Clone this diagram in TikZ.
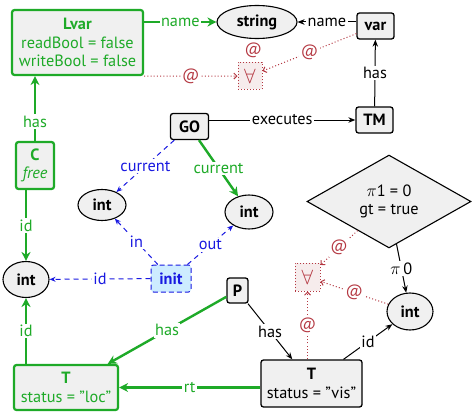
\documentclass[tikz,border=0pt]{standalone}
\usepackage{fontspec}
\setmainfont{PT Sans}
\usetikzlibrary{shapes.geometric,arrows.meta}
\definecolor{gr}{RGB}{30,170,40}
\definecolor{bl}{RGB}{25,25,225}
\definecolor{rd}{RGB}{180,55,65}
\definecolor{nf}{RGB}{240,240,240}
\definecolor{af}{RGB}{246,236,236}
\definecolor{ibl}{RGB}{205,236,255}
\newcommand{\mypi}{{\fontsize{18}{18}\selectfont$\pi$}}
\tikzset{
 base/.style={font=\fontsize{16.3}{18.5}\selectfont},
 blk/.style={base, draw=black, line width=1.3pt, fill=nf, rounded corners=2.5pt, inner sep=0pt, align=center},
 ell/.style={ellipse, draw=black, line width=1.1pt, fill=nf, inner sep=0pt, minimum width=48pt, minimum height=34pt, font=\fontsize{16.3}{18.5}\selectfont\bfseries},
 gbox/.style={base, draw=gr, text=gr, line width=2.2pt, fill=nf, rounded corners=2.5pt, inner sep=0pt, align=center},
 allbox/.style={draw=rd, dotted, line width=1pt, fill=af, inner sep=0pt, text=rd, minimum width=24pt, minimum height=27pt, font=\fontsize{20}{22}\selectfont},
 initbox/.style={draw=bl, dash pattern=on 5pt off 3pt, line width=1pt, fill=ibl, text=bl, rounded corners=2.5pt, inner sep=0pt, minimum width=40pt, minimum height=27pt, font=\fontsize{16.3}{18.5}\selectfont\bfseries},
 lbl/.style={base, fill=white, inner sep=1.5pt},
 barr/.style={draw=black, line width=1pt, -{Stealth[length=7pt,width=5.5pt]}},
 garr/.style={draw=gr, line width=2.4pt, -{Stealth[length=9pt,width=9pt]}},
 bdash/.style={draw=bl, line width=1pt, dash pattern=on 5pt off 4pt, -{Stealth[length=6pt,width=5pt]}},
 rdot/.style={draw=rd, line width=1pt, dash pattern=on 1pt off 2.2pt, -{Straight Barb[length=3pt,width=6pt]}},
}
\begin{document}
\begin{tikzpicture}[x=1pt,y=-1pt]
\fill[white] (0,0) rectangle (474,412);
\useasboundingbox (0,0) rectangle (474,412);
% nodes
\node[gbox, minimum width=131pt, minimum height=65pt] (Lvar) at (77.5,42.5) {{\bfseries Lvar}\\readBool = false\\writeBool = false};
\node[ell, minimum width=80pt, minimum height=33pt] (str) at (257,22) {string};
\node[blk, minimum width=37pt, minimum height=26pt] (var) at (375.5,26) {\bfseries var};
\node[allbox] (fa1) at (250,76) {$\forall$};
\node[blk, minimum width=37pt, minimum height=26pt] (TM) at (374.5,120) {\bfseries TM};
\node[blk, minimum width=38pt, minimum height=26pt] (GO) at (189.5,126.5) {\bfseries GO};
\node[gbox, minimum width=38pt, minimum height=47pt] (C) at (35,165.5) {{\bfseries C}\\\itshape free};
\node[ell, minimum height=31pt] (iML) at (102,205) {int};
\node[ell] (iMR) at (249,212) {int};
\node[base, diamond, draw=black, line width=1.1pt, fill=nf, inner sep=0pt, minimum width=164pt, minimum height=81pt, align=center] (dia) at (389,201.5) {\mypi1 = 0\\gt = true};
\node[ell, minimum width=46pt, minimum height=36pt] (intL) at (26,279.5) {int};
\node[initbox] (init) at (171,278.5) {init};
\node[allbox, minimum width=25pt, minimum height=28pt] (fa2) at (307.5,277) {$\forall$};
\node[blk, minimum width=21pt, minimum height=25pt] (P) at (237.5,290.5) {\bfseries P};
\node[ell, minimum width=46pt, minimum height=37pt] (iR) at (410,311.5) {int};
\node[gbox, minimum width=104pt, minimum height=45pt] (Tloc) at (66,387.5) {{\bfseries T}\\status = "loc"};
\node[blk, minimum width=101pt, minimum height=47pt] (Tvis) at (311.5,383.5) {{\bfseries T}\\status = "vis"};
% edges
\draw[garr] (Lvar.east |- str.west) -- node[lbl,text=gr]{name} (str.west);
\draw[barr] (var.west |- str.east) -- node[lbl]{name} (str.east);
\draw[rdot] (Lvar.south east) -- node[lbl,text=rd]{@} (fa1);
\draw[rdot] (var) -- node[lbl,text=rd]{@} (fa1);
\draw[draw=rd, dash pattern=on 1pt off 2.2pt, line width=1pt, shorten <=5pt, shorten >=5pt] (str) -- node[lbl,text=rd]{@} (fa1);
\draw[barr] (TM) -- node[lbl]{has} (var);
\draw[barr] (GO.east |- TM.west) -- node[lbl]{executes} (TM.west);
\draw[garr] (C.north) -- node[lbl,text=gr,pos=0.3]{has} (C.north |- Lvar.south);
\draw[garr] (C.south -| intL.north) -- node[lbl,text=gr]{id} (intL.north);
\draw[bdash] (GO) -- node[lbl,text=bl]{current} (iML);
\draw[garr] (GO) -- node[lbl,text=gr]{current} (iMR);
\draw[bdash] (init) -- node[lbl,text=bl]{in} (iML);
\draw[bdash] (init) -- node[lbl,text=bl]{out} (iMR);
\draw[bdash] (init) -- node[lbl,text=bl]{id} (intL);
\draw[rdot] (dia) -- node[lbl,text=rd]{@} (fa2);
\draw[rdot] (iR) -- node[lbl,text=rd]{@} (fa2);
\draw[rdot] (Tvis.north -| fa2.south) -- node[lbl,text=rd]{@} (fa2.south);
\draw[barr] (dia.-80) -- node[lbl]{\mypi\,0} (iR);
\draw[barr] ([xshift=32pt]Tvis.north) -- node[lbl]{id} (iR);
\draw[barr] (P) -- node[lbl]{has} (Tvis);
\draw[garr] (P) -- node[lbl,text=gr]{has} (Tloc);
\draw[garr] (Tvis.west |- Tloc.east) -- node[lbl,text=gr]{rt} (Tloc.east);
\draw[garr] (Tloc.north -| intL.south) -- node[lbl,text=gr]{id} (intL.south);
\end{tikzpicture}
\end{document}
